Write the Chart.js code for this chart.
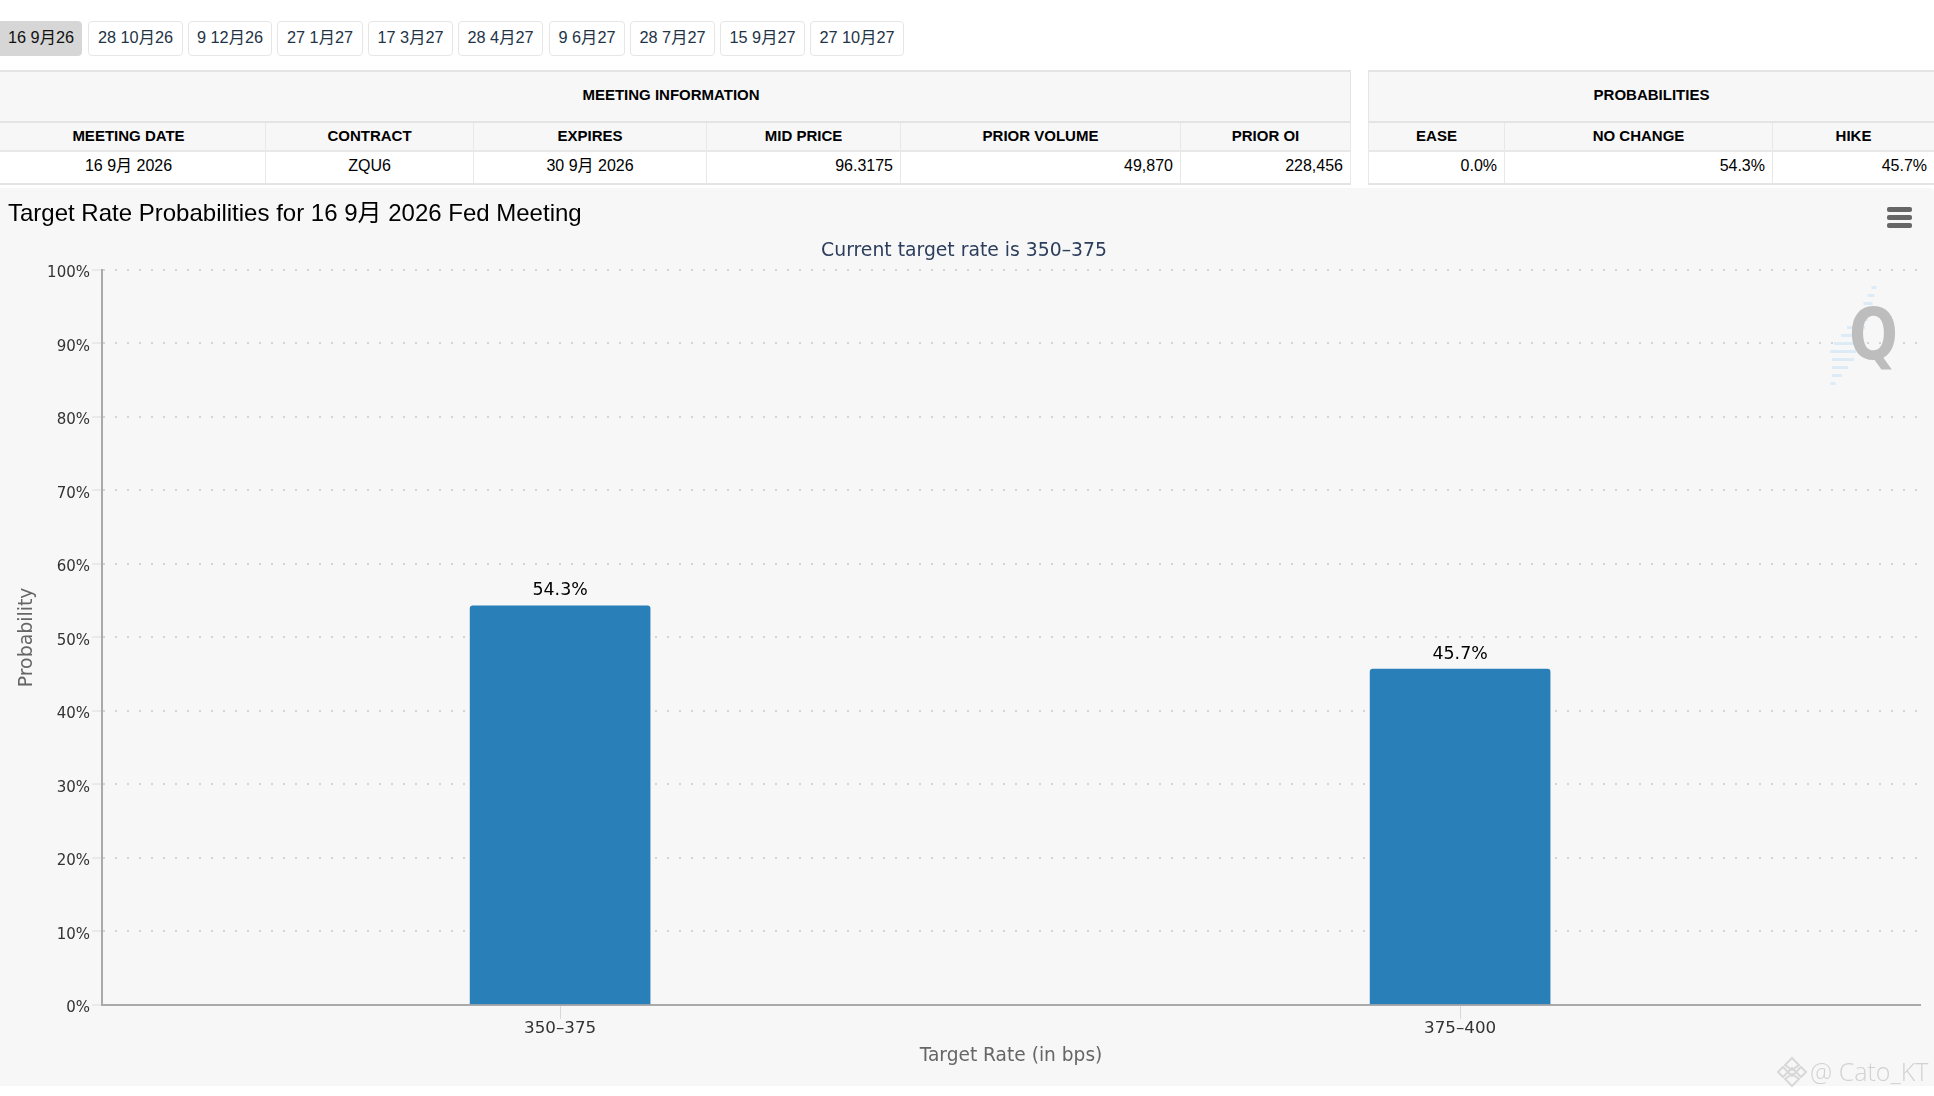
<!DOCTYPE html>
<html lang="zh">
<head>
    <meta charset="UTF-8">
    <title>Target Rate Probabilities</title>
    <script src="https://cdn.jsdelivr.net/npm/chart.js"></script>
    <style>
        body {
            margin: 0;
            background: #fff;
            width: 1934px;
            height: 1096px;
            position: relative;
            overflow: hidden;
            font-family: "Liberation Sans", "Noto Sans CJK SC", sans-serif;
        }
        #tabs {
            position: absolute;
            left: 0;
            top: 21px;
            display: flex;
        }
        #tabs div {
            box-sizing: border-box;
            height: 35px;
            line-height: 31px;
            text-align: center;
            font-size: 16.3px;
            color: #1f3447;
            background: #fff;
            border: 1px solid #e6e6e6;
            border-radius: 4px;
        }
        #tabs div.active {
            background: #d6d6d6;
            border-color: #d6d6d6;
            color: #111;
            border-radius: 0 4px 4px 0;
        }
        table {
            position: absolute;
            top: 70px;
            border-collapse: collapse;
            table-layout: fixed;
            color: #000;
        }
        th {
            background: #f7f7f8;
            font-size: 15px;
            font-weight: bold;
            border: 1px solid #e8e8e8;
            border-top-width: 2px;
            border-bottom-width: 2px;
            padding: 0 0 2px 0;
        }
        tr.group th { height: 44px; padding-bottom: 5px; border-color: #e4e4e4; }
        tr.head th { height: 25px; }
        td {
            height: 28px;
            font-size: 16px;
            line-height: 20px;
            text-align: center;
            background: #fff;
            border: 1px solid #e8e8e8;
            border-bottom: 2px solid #e4e4e4;
            padding: 0 0 3px 0;
        }
        td.num { text-align: right; padding-right: 7px; }
        #panel {
            position: absolute;
            left: 0;
            top: 188px;
            width: 1934px;
            height: 898px;
            background: #f7f7f7;
            border-radius: 0 4px 0 0;
        }
        #menu {
            position: absolute;
            left: 1887px;
            top: 207px;
        }
        #menu div {
            width: 25px;
            height: 5px;
            background: #666;
            border-radius: 2px;
            margin-bottom: 3px;
        }
        .deco { position: absolute; }
    </style>
</head>
<body>
    <div id="tabs"></div>
    <table id="meetingTable"></table>
    <table id="probTable"></table>
    <div id="panel"><canvas id="rateChart" width="1934" height="898"></canvas></div>

    <svg class="deco" style="left:1820px;top:280px" width="90" height="110" id="qLogo">
        <text transform="translate(29 79) scale(0.9 1.12)" font-family="DejaVu Sans" font-weight="bold" font-size="64" fill="#bdbdbd">Q</text>
    </svg>
    <div id="menu"><div></div><div></div><div></div></div>

    <svg class="deco" style="left:1776px;top:1056px" width="32" height="32">
        <g fill="none" stroke="#d8d8d8" stroke-width="2">
            <polygon points="16,2 23,9 16,14 9,9"/>
            <polygon points="7,11 12,16 7,21 2,16"/>
            <polygon points="25,11 30,16 25,21 20,16"/>
            <polygon points="16,12 20,16 16,20 12,16"/>
            <polygon points="9,23 16,18 23,23 16,30"/>
        </g>
    </svg>
    <div class="deco" style="left:1810px;top:1054px;font:300 25px 'Open Sans';color:#d2d2d2;white-space:nowrap">@ Cato_KT</div>

    <script>
        const tabLabels = ['16 9月26', '28 10月26', '9 12月26', '27 1月27', '17 3月27', '28 4月27', '9 6月27', '28 7月27', '15 9月27', '27 10月27'];
        const tabWidths = [82, 95, 84, 86, 85, 85, 76, 85, 85, 94];
        const tabGaps = [6, 5, 5, 5, 5, 6, 5, 5, 5, 0];

        const meetingHeaders = ['MEETING DATE', 'CONTRACT', 'EXPIRES', 'MID PRICE', 'PRIOR VOLUME', 'PRIOR OI'];
        const meetingValues = ['16 9月 2026', 'ZQU6', '30 9月 2026', '96.3175', '49,870', '228,456'];
        const meetingWidths = [274, 208, 233, 194, 280, 170];

        const probHeaders = ['EASE', 'NO CHANGE', 'HIKE'];
        const probValues = ['0.0%', '54.3%', '45.7%'];
        const probWidths = [136, 268, 162];

        const categories = ['350–375', '375–400'];
        const probabilities = [54.3, 45.7];

        document.getElementById('tabs').innerHTML = tabLabels.map((t, i) =>
            `<div class="${i === 0 ? 'active' : ''}" style="width:${tabWidths[i]}px;margin-right:${tabGaps[i]}px">${t}</div>`).join('');

        function buildTable(id, left, title, headers, values, widths) {
            const total = widths.reduce((a, b) => a + b, 0);
            const table = document.getElementById(id);
            table.style.left = left + 'px';
            table.style.width = total + 'px';
            table.innerHTML = `
                <colgroup>${widths.map(w => `<col style="width:${w}px">`).join('')}</colgroup>
                <tr class="group"><th colspan="${headers.length}">${title}</th></tr>
                <tr class="head">${headers.map(h => `<th>${h}</th>`).join('')}</tr>
                <tr>${values.map(v => `<td class="${/^[\d.,]+%?$/.test(v) ? 'num' : ''}">${v}</td>`).join('')}</tr>`;
        }
        buildTable('meetingTable', -9, 'MEETING INFORMATION', meetingHeaders, meetingValues, meetingWidths);
        buildTable('probTable', 1368, 'PROBABILITIES', probHeaders, probValues, probWidths);

        // streak behind the Q
        const streak = [[50,6,5],[47,14,7],[44,22,9],[41,30,11],[37,38,14],[32,46,18],[28,54,22],[23,62,26],[19,70,26],[19,78,22],[16,86,16],[13,94,10],[9,102,5]];
        document.getElementById('qLogo').insertAdjacentHTML('afterbegin',
            streak.map(s => `<rect x="${s[0] - s[2] / 2 + 4}" y="${s[1]}" width="${s[2]}" height="3" fill="#dcebf6"/>`).join(''));

        const barLabels = {
            id: 'barLabels',
            afterDatasetsDraw(chart) {
                const ctx = chart.ctx;
                ctx.save();
                ctx.font = '17.4px "DejaVu Sans"';
                ctx.fillStyle = '#000';
                ctx.textAlign = 'center';
                ctx.textBaseline = 'middle';
                chart.getDatasetMeta(0).data.forEach((bar, i) => {
                    ctx.fillText(probabilities[i].toFixed(1) + '%', bar.x, bar.y - 15);
                });
                ctx.restore();
            }
        };

        new Chart(document.getElementById('rateChart').getContext('2d'), {
            type: 'bar',
            data: {
                datasets: [{
                    data: probabilities.map((p, i) => ({ x: i, y: p })),
                    backgroundColor: '#2980b9',
                    barThickness: 180,
                    borderRadius: { topLeft: 3, topRight: 3 },
                    borderSkipped: 'bottom'
                }]
            },
            options: {
                responsive: false,
                animation: false,
                layout: { padding: { left: 8, right: 14, top: 0, bottom: 0 } },
                plugins: {
                    legend: { display: false },
                    tooltip: { enabled: false },
                    title: {
                        display: true,
                        align: 'start',
                        text: 'Target Rate Probabilities for 16 9月 2026 Fed Meeting',
                        color: '#000',
                        font: { family: '"Liberation Sans", "Noto Sans CJK SC"', size: 24, weight: 'normal', lineHeight: '28px' },
                        padding: { top: 12.5, bottom: 0 }
                    },
                    subtitle: {
                        display: true,
                        text: 'Current target rate is 350–375',
                        color: '#2c3e5c',
                        font: { family: 'DejaVu Sans', size: 18.8, lineHeight: '22px' },
                        padding: { top: 12, bottom: 7.5 }
                    }
                },
                scales: {
                    x: {
                        type: 'linear',
                        offset: false,
                        min: -0.509,
                        max: 1.511,
                        afterBuildTicks(scale) {
                            scale.ticks = categories.map((c, i) => ({ value: i }));
                        },
                        afterFit(scale) { scale.height = 81.2; },
                        ticks: {
                            callback: value => categories[value],
                            color: '#333',
                            font: { family: 'DejaVu Sans', size: 16.7 },
                            padding: 0,
                            maxRotation: 0
                        },
                        grid: { offset: false, drawOnChartArea: false, tickLength: 14, tickColor: '#d8d8d8', color: '#d8d8d8' },
                        border: { color: '#aaaaaa', width: 2 },
                        title: {
                            display: true,
                            text: 'Target Rate (in bps)',
                            color: '#666',
                            font: { family: 'DejaVu Sans', size: 18.6, lineHeight: '20px' },
                            padding: { top: 0, bottom: 20 }
                        }
                    },
                    y: {
                        min: 0,
                        max: 100,
                        afterFit(scale) { scale.width = 94; },
                        ticks: {
                            stepSize: 10,
                            callback: value => value + '%',
                            color: '#333',
                            font: { family: 'DejaVu Sans', size: 15 },
                            padding: 2,
                            labelOffset: 3.5
                        },
                        grid: {
                            color: '#d4d4d4',
                            lineWidth: 2,
                            tickColor: '#dcdcdc',
                            tickWidth: 1,
                            tickLength: 10,
                            tickBorderDash: []
                        },
                        border: { color: '#aaaaaa', width: 2, dash: [2, 10] },
                        title: {
                            display: true,
                            text: 'Probability',
                            color: '#666',
                            font: { family: 'DejaVu Sans', size: 18.9, lineHeight: '20px' },
                            padding: { top: 9, bottom: 0 }
                        }
                    }
                }
            },
            plugins: [barLabels]
        });
    </script>
</body>
</html>
